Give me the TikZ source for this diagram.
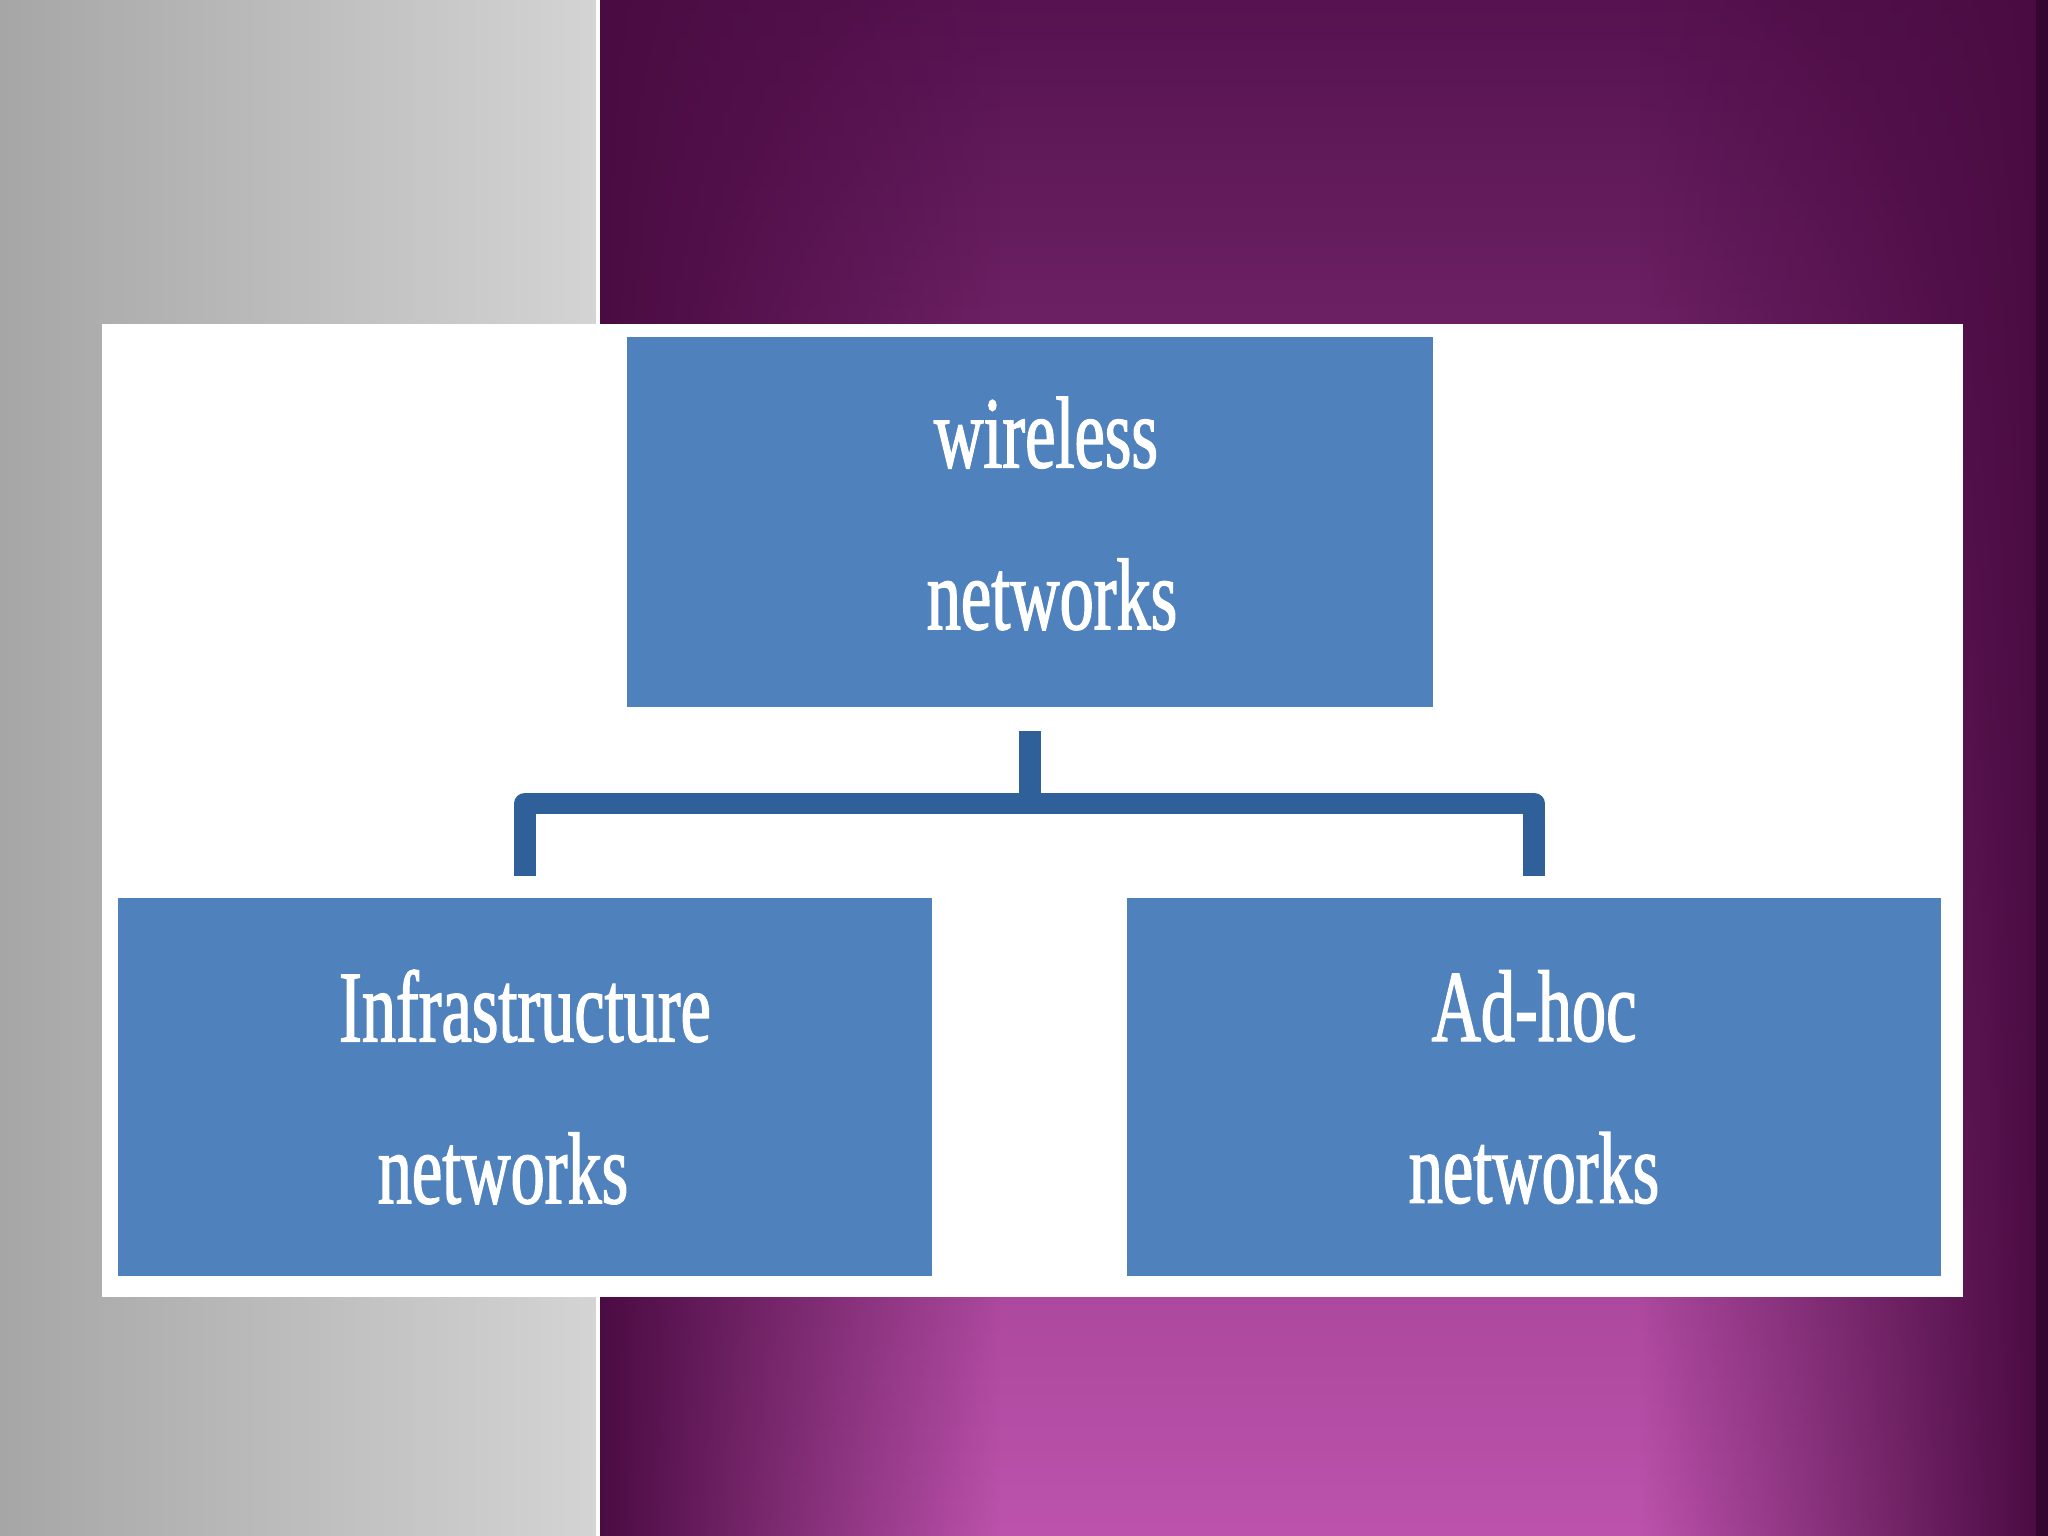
\documentclass[tikz,border=0pt]{standalone}
\usepackage{fontspec}
\usetikzlibrary{fadings}
\newfontfamily\boxfont[FakeStretch=0.67,FakeBold=1.3]{Liberation Serif}
\definecolor{boxblue}{HTML}{4F81BD}
\definecolor{linkblue}{HTML}{30609A}
\definecolor{plumdark}{HTML}{4A0B42}
\definecolor{plumtop}{HTML}{561350}
\definecolor{plumlow}{HTML}{BC52AC}
\definecolor{greyleft}{HTML}{A6A6A6}
\definecolor{greyright}{HTML}{D4D4D4}

\tikzset{
  netbox/.style={fill=boxblue,text=white,align=center,inner sep=0pt,outer sep=0pt,
    font=\boxfont\fontsize{29pt}{46pt}\selectfont},
  link/.style={draw=linkblue,line width=6pt,line join=round},
}

\begin{document}
\begin{tikzpicture}[x=0.01cm,y=-0.01cm]
  \useasboundingbox (0,0) rectangle (2048,1536);
  % slide backdrop
  \shade[left color=greyleft,right color=greyright] (0,0) rectangle (598,1536);
  \shade[top color=plumtop,bottom color=plumlow] (598,0) rectangle (2048,1536);
  \fill[plumdark,path fading=east] (598,0) rectangle (1000,1536);
  \fill[plumdark,path fading=west] (1640,0) rectangle (2040,1536);
  \fill[plumdark!70!black] (2036,0) rectangle (2048,1536);
  \draw[white,line width=1.2pt] (598,0) -- (598,1536);
  \fill[white] (102,324) rectangle (1963,1297);

  % boxes
  \node[netbox,minimum width=8.06cm,minimum height=3.70cm,text depth=0.18cm] (wireless) at (1030,522)
    {\hspace*{0.32cm}wireless\\\hspace*{0.44cm}networks};
  \node[netbox,minimum width=8.13cm,minimum height=3.78cm] (infra) at (525,1087)
    {Infrastructure\\networks\hspace*{0.44cm}};
  \node[netbox,minimum width=8.13cm,minimum height=3.78cm] (adhoc) at (1534,1087) {Ad-hoc\\networks};

  % tree links
  \coordinate (fork) at ([yshift=-0.96cm]wireless.south);
  \draw[link,shorten <=0.24cm] (wireless.south) -- (fork);
  \draw[link,shorten >=0.22cm] (fork) -| (infra.north);
  \draw[link,shorten >=0.22cm] (fork) -| (adhoc.north);
\end{tikzpicture}
\end{document}
